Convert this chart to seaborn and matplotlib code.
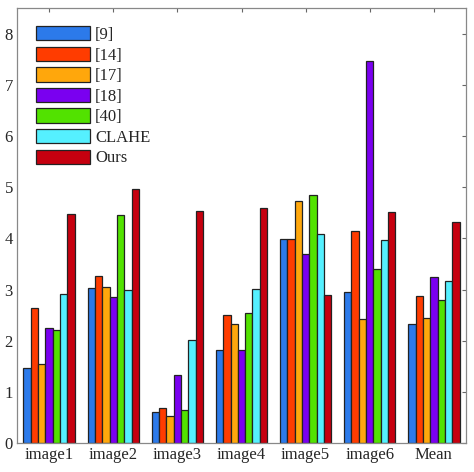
import numpy as np
import pandas as pd
import seaborn as sns
from matplotlib import pyplot as plt

categories = ["image1", "image2", "image3", "image4", "image5", "image6", "Mean"]
methods = ["[9]", "[14]", "[17]", "[18]", "[40]", "CLAHE", "Ours"]

vals_9 = [1.47, 3.04, 0.61, 1.82, 3.99, 2.96, 2.32]
vals_14 = [2.64, 3.27, 0.69, 2.50, 3.98, 4.15, 2.88]
vals_17 = [1.55, 3.06, 0.54, 2.33, 4.73, 2.42, 2.44]
vals_18 = [2.26, 2.86, 1.34, 1.82, 3.69, 7.47, 3.24]
vals_40 = [2.22, 4.46, 0.64, 2.55, 4.84, 3.40, 2.80]
vals_clahe = [2.92, 2.99, 2.02, 3.01, 4.08, 3.97, 3.17]
vals_ours = [4.47, 4.96, 4.54, 4.60, 2.89, 4.51, 4.33]

colors = ["#2c7aea", "#ff3c00", "#ffa70c", "#7a00f0", "#52e200", "#55f0ff", "#c6000f"]

series = [vals_9, vals_14, vals_17, vals_18, vals_40, vals_clahe, vals_ours]
rows = []
for m, v in zip(methods, series):
    for c, x in zip(categories, v):
        rows.append({"image": c, "method": m, "value": x})
df = pd.DataFrame(rows)

sns.set_style("white")
plt.rcParams["font.family"] = ["Liberation Serif", "DejaVu Serif"]

fig = plt.figure(figsize=(4.74, 4.72), dpi=100)
ax = fig.add_axes([0.036, 0.061, 0.947, 0.922])

sns.barplot(
    data=df, x="image", y="value", hue="method",
    order=categories, hue_order=methods, palette=colors,
    width=0.8, edgecolor="#222222", linewidth=0.9, saturation=1, ax=ax,
)

ax.set_xlim(-0.5, 6.5)
ax.set_ylim(0, 8.5)
ax.set_yticks(range(0, 9))
ax.set_xlabel("")
ax.set_ylabel("")

for s in ax.spines.values():
    s.set_visible(True)
    s.set_color("#888888")
    s.set_linewidth(0.9)

ax.tick_params(direction="in", top=True, right=True, length=3,
               color="#666666", labelsize=12, pad=3)

leg = ax.legend(loc="upper left", frameon=False, fontsize=12,
                handlelength=3.25, handleheight=0.95, labelspacing=0.22,
                handletextpad=0.3, borderaxespad=0,
                bbox_to_anchor=(0.027, 0.974))

fig.savefig("out.png", dpi=100)
